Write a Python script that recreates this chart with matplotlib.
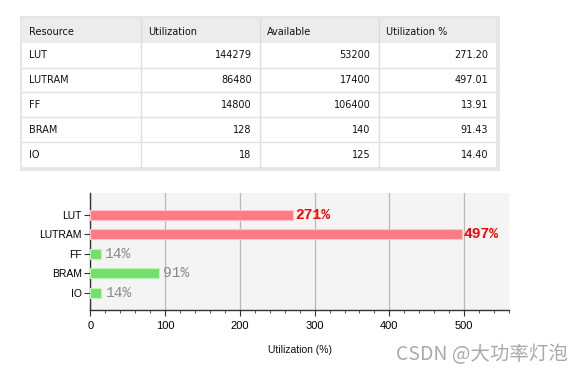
import matplotlib
matplotlib.use("Agg")
import matplotlib.pyplot as plt
from matplotlib.patches import Rectangle
from matplotlib.ticker import MultipleLocator

resources = ["LUT", "LUTRAM", "FF", "BRAM", "IO"]
utilization = [144279, 86480, 14800, 128, 18]
available = [53200, 17400, 106400, 140, 125]
util_pct = [271.20, 497.01, 13.91, 91.43, 14.40]
headers = ["Resource", "Utilization", "Available", "Utilization %"]
pct_labels = ["271%", "497%", "14%", "91%", "14%"]

W, H = 583, 374
fig = plt.figure(figsize=(W / 100, H / 100), dpi=100)
fig.patch.set_facecolor("white")

# ---------- table (pixel coordinates) ----------
tax = fig.add_axes([0, 0, 1, 1])
tax.set_xlim(0, W)
tax.set_ylim(H, 0)
tax.axis("off")

tax.add_patch(Rectangle((20, 16), 480, 155, facecolor="#e6e6e6", edgecolor="none"))
col_edges = [22, 141, 259.5, 378.5, 496]
row_edges = [19, 43, 67.5, 92, 117, 142, 167]
tax.add_patch(Rectangle((22, 19), 474, 24, facecolor="#ececec", edgecolor="none"))
tax.add_patch(Rectangle((22, 43), 474, 124, facecolor="white", edgecolor="none"))
for x in col_edges[1:-1]:
    tax.plot([x, x], [19, 167], color="#dedede", lw=1)
for y in row_edges[2:-1]:
    tax.plot([22, 496], [y, y], color="#e2e2e2", lw=1)

tfont = dict(family="DejaVu Sans", fontsize=7, color="#111111", va="center")
for j, h in enumerate(headers):
    tax.text(col_edges[j] + 7, 31.5, h, ha="left", **tfont)
rows = list(zip(resources, utilization, available, util_pct))
for i, (r, u, a, p) in enumerate(rows):
    yc = (row_edges[i + 1] + row_edges[i + 2]) / 2
    tax.text(col_edges[0] + 7, yc, r, ha="left", **tfont)
    tax.text(col_edges[2] - 8, yc, str(u), ha="right", **tfont)
    tax.text(col_edges[3] - 8, yc, str(a), ha="right", **tfont)
    tax.text(col_edges[4] - 8, yc, f"{p:.2f}", ha="right", **tfont)

# ---------- bar chart ----------
left, right = 90.3, 509
top, bottom = 192.7, 310
ax = fig.add_axes([left / W, 1 - bottom / H, (right - left) / W, (bottom - top) / H])
ax.set_facecolor("#f4f4f4")
ypos = list(range(len(resources)))
colors = ["#ff7b84" if v > 100 else "#72e06a" for v in util_pct]
edges = ["#ffc4c8" if v > 100 else "#c4f2bf" for v in util_pct]
ax.barh(ypos, util_pct, height=0.52, color=colors, edgecolor=edges, linewidth=0.8, zorder=3)
ax.set_xlim(0, 560)
ax.set_ylim(4.89, -1.14)
ax.set_yticks(ypos)
ax.set_yticklabels(resources, fontsize=7.5, family="Liberation Sans")
ax.xaxis.set_major_locator(MultipleLocator(100))
ax.xaxis.set_minor_locator(MultipleLocator(20))
for lbl in ax.get_xticklabels():
    lbl.set_fontsize(8)
    lbl.set_family("Liberation Sans")
ax.tick_params(axis="x", which="major", length=4, color="#333333", pad=4)
ax.tick_params(axis="x", which="minor", length=2, color="#333333")
ax.tick_params(axis="y", length=4, color="#333333", pad=2)
ax.grid(axis="x", which="major", color="#b8b8b8", lw=0.9, zorder=1)
for s in ["top", "right"]:
    ax.spines[s].set_visible(False)
for s in ["left", "bottom"]:
    ax.spines[s].set_color("#333333")
    ax.spines[s].set_linewidth(1)

for y, v, lab in zip(ypos, util_pct, pct_labels):
    over = v > 100
    ax.annotate(lab, (v, y), xytext=(2 if over else 4.5, 0), textcoords="offset pixels",
                ha="left", va="center", fontsize=10.5, family="Liberation Mono",
                fontweight="bold" if over else "normal",
                color="#ff0000" if over else "#8a8a8a", zorder=4)

fig.text(300 / W, 1 - 350 / H, "Utilization (%)", ha="center", va="center",
         fontsize=7.5, family="Liberation Sans", color="#111111")

fig.text(396 / W, 1 - 355 / H, "CSDN @大功率灯泡", ha="left", va="center",
         fontsize=14, family=["Noto Sans CJK SC", "DejaVu Sans"], color="#aaaaaa")

fig.savefig("out.png", dpi=100, facecolor="white")
